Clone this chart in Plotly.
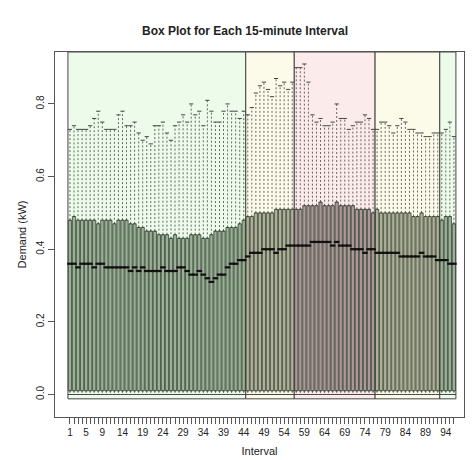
import plotly.graph_objects as go

intervals = list(range(1, 97))
upper = [0.73,0.74,0.73,0.73,0.73,0.74,0.76,0.78,0.75,0.73,0.73,0.73,0.77,0.78,0.74,0.74,0.75,0.72,0.70,0.71,0.69,0.74,0.74,0.75,0.72,0.70,0.74,0.75,0.77,0.75,0.80,0.77,0.78,0.74,0.81,0.78,0.75,0.75,0.78,0.80,0.78,0.78,0.76,0.78,0.77,0.79,0.83,0.85,0.86,0.84,0.82,0.87,0.85,0.86,0.84,0.86,0.90,0.90,0.91,0.86,0.77,0.75,0.76,0.74,0.74,0.75,0.80,0.76,0.76,0.73,0.74,0.75,0.75,0.77,0.76,0.73,0.73,0.75,0.75,0.74,0.72,0.74,0.76,0.75,0.73,0.73,0.72,0.72,0.71,0.71,0.72,0.72,0.72,0.73,0.75,0.71]
q3 = [0.48,0.49,0.48,0.48,0.48,0.48,0.48,0.47,0.48,0.48,0.48,0.47,0.48,0.48,0.48,0.47,0.47,0.46,0.46,0.45,0.45,0.45,0.44,0.44,0.44,0.43,0.44,0.43,0.43,0.43,0.44,0.44,0.44,0.43,0.43,0.44,0.45,0.45,0.45,0.46,0.46,0.46,0.47,0.48,0.49,0.49,0.50,0.50,0.50,0.50,0.50,0.51,0.51,0.51,0.51,0.51,0.51,0.51,0.52,0.52,0.52,0.52,0.53,0.52,0.52,0.52,0.53,0.52,0.52,0.52,0.52,0.51,0.51,0.51,0.51,0.50,0.51,0.50,0.50,0.50,0.50,0.50,0.50,0.50,0.50,0.49,0.49,0.50,0.49,0.49,0.49,0.49,0.48,0.49,0.49,0.47]
median = [0.36,0.36,0.35,0.36,0.36,0.36,0.35,0.36,0.36,0.35,0.35,0.35,0.35,0.35,0.35,0.34,0.35,0.34,0.35,0.34,0.34,0.34,0.34,0.35,0.34,0.34,0.34,0.35,0.35,0.34,0.33,0.33,0.34,0.33,0.32,0.31,0.32,0.33,0.33,0.35,0.36,0.36,0.37,0.37,0.38,0.39,0.39,0.39,0.40,0.40,0.40,0.39,0.40,0.40,0.41,0.41,0.41,0.41,0.41,0.41,0.42,0.42,0.42,0.42,0.42,0.41,0.42,0.41,0.41,0.41,0.40,0.40,0.40,0.39,0.40,0.40,0.39,0.39,0.39,0.39,0.39,0.39,0.38,0.38,0.38,0.38,0.38,0.39,0.38,0.38,0.38,0.37,0.37,0.37,0.36,0.36]
q1 = [0.01]*96
lower = [0.0]*96
tick_labels = {1:"1",5:"5",9:"9",14:"14",19:"19",24:"24",29:"29",34:"34",39:"39",44:"44",49:"49",54:"54",59:"59",64:"64",69:"69",74:"74",79:"79",84:"84",89:"89",94:"94"}
periods = [(0.5, 44.5, "#ecfbea", "#9cb097"), (44.5, 56.5, "#fcfbea", "#b0b09a"),
           (56.5, 76.5, "#fcebeb", "#ad9898"), (76.5, 92.5, "#fcfbea", "#b0b09a"),
           (92.5, 96.5, "#ecfbea", "#9cb097")]

fig = go.Figure()
shapes = []
for a, b, bg, fill in periods:
    shapes.append(dict(type="rect", x0=a, x1=b, y0=-0.012, y1=0.943, fillcolor=bg,
                       line=dict(color="#444", width=1), layer="below"))
    idx = [i for i in range(96) if a < intervals[i] < b]
    xs = [intervals[i] for i in idx]
    fig.add_trace(go.Box(x=xs, q1=[q1[i] for i in idx], median=[median[i] for i in idx],
                         q3=[q3[i] for i in idx], lowerfence=[q1[i] for i in idx],
                         upperfence=[q3[i] for i in idx], fillcolor=fill,
                         line=dict(color="#243324", width=0.7), width=0.8,
                         showlegend=False, hoverinfo="skip"))
wx, wy = [], []
for i in range(96):
    wx += [intervals[i], intervals[i], None, intervals[i], intervals[i], None]
    wy += [q3[i], upper[i], None, q1[i], lower[i], None]
fig.add_trace(go.Scatter(x=wx, y=wy, mode="lines", line=dict(color="#444", width=0.8, dash="2px,2px"),
                         showlegend=False, hoverinfo="skip"))
for ys in (upper, lower):
    fig.add_trace(go.Scatter(x=intervals, y=ys, mode="markers",
                             marker=dict(symbol="line-ew", size=3, line=dict(width=1, color="#444")),
                             showlegend=False, hoverinfo="skip"))
fig.add_trace(go.Scatter(x=intervals, y=median, mode="markers",
                         marker=dict(symbol="line-ew", size=4, line=dict(width=2.2, color="#111")),
                         showlegend=False, hoverinfo="skip"))

fig.update_layout(
    width=474, height=460, margin=dict(l=47, r=18, t=44, b=45),
    paper_bgcolor="white", plot_bgcolor="white", shapes=shapes,
    font=dict(family="Liberation Sans, Arial", size=11, color="#222"),
    title=dict(text="<b>Box Plot for Each 15-minute Interval</b>", x=0.5, xanchor="center",
               y=0.96, font=dict(size=12)),
    xaxis=dict(range=[-2.7, 98.5], tickvals=intervals,
               ticktext=[tick_labels.get(i, "") for i in intervals],
               ticks="outside", ticklen=6, tickcolor="#555", showgrid=False, zeroline=False,
               showline=True, linecolor="#555", mirror=True,
               title=dict(text="Interval", font=dict(size=11), standoff=10), tickfont=dict(size=10)),
    yaxis=dict(range=[-0.062, 0.943], tickvals=[0, 0.2, 0.4, 0.6, 0.8],
               ticktext=["0.0", "0.2", "0.4", "0.6", "0.8"], tickangle=-90,
               ticks="outside", ticklen=6, tickcolor="#555", showgrid=False, zeroline=False,
               showline=True, linecolor="#555", mirror=True,
               title=dict(text="Demand (kW)", font=dict(size=11), standoff=6), tickfont=dict(size=10)),
)
fig.write_html("out.html")
